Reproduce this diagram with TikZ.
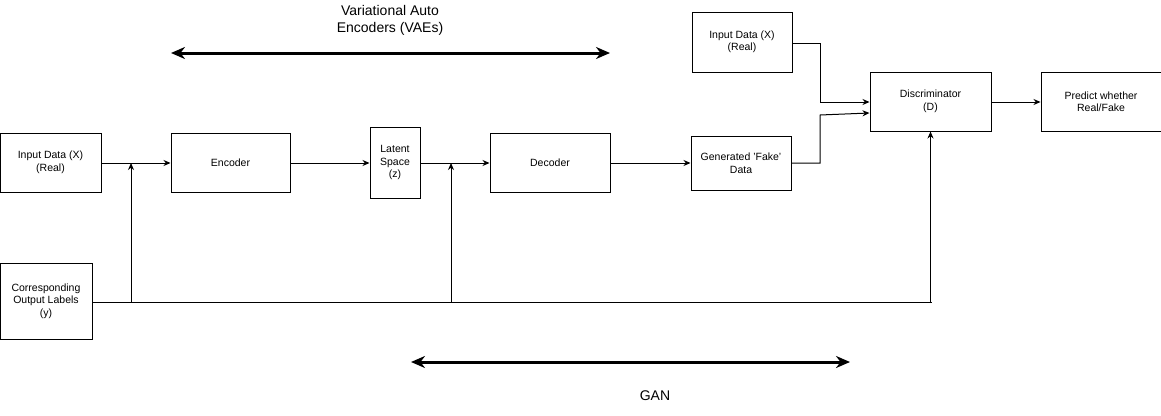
\documentclass[tikz,border=0pt]{standalone}
\usepackage{fontspec}
\setmainfont{Liberation Sans}
\usetikzlibrary{arrows.meta}
\tikzset{
  blk/.style={draw, line width=1pt, align=center, inner sep=0pt, font=\fontsize{10.5}{12.5}\selectfont},
  conn/.style={line width=1pt, -{Stealth[length=7pt,width=6pt]}},
  span/.style={line width=3pt, {Stealth[length=14pt,width=12pt]}-{Stealth[length=14pt,width=12pt]}}
}
\begin{document}
\begin{tikzpicture}[x=1pt, y=-1pt]
    \useasboundingbox (0,0) rectangle (1161,415);

    % boxes
    \node[blk, minimum width=101pt, minimum height=59pt] (inx) at (50.5,162.5) {Input Data (X)\\(Real)};
    \node[blk, minimum width=119pt, minimum height=59pt] (enc) at (230.5,162.5) {Encoder};
    \node[blk, minimum width=50pt, minimum height=71pt] (lat) at (395,162.5) {Latent\\Space\\(z)};
    \node[blk, minimum width=120pt, minimum height=59pt] (dec) at (550,162.5) {Decoder};
    \node[blk, minimum width=100pt, minimum height=54pt] (gen) at (741,163) {Generated 'Fake'\\Data};
    \node[blk, minimum width=100pt, minimum height=60pt] (inr) at (742,42) {Input Data (X)\\(Real)};
    \node[blk, minimum width=121pt, minimum height=59pt] (dis) at (930.5,101.5) {Discriminator\\(D)};
    \node[blk, minimum width=120pt, minimum height=59pt] (pred) at (1101,101.5) {Predict whether\\Real/Fake};
    \node[blk, minimum width=92pt, minimum height=76pt] (lbl) at (46,301) {Corresponding\\Output Labels\\(y)};

    % junctions
    \coordinate (j1) at (131,163);
    \coordinate (j2) at (451,163);
    \coordinate (b1) at (131,302);
    \coordinate (b2) at (451,302);
    \coordinate (b3) at (931,302);

    % connectors
    \draw[conn] (inx.east |- j1) -- (enc.west |- j1);
    \draw[conn] (enc.east |- j1) -- (lat.west |- j1);
    \draw[conn] (lat.east |- j2) -- (dec.west |- j2);
    \draw[conn] (dec.east |- j1) -- (gen.west |- j1);
    \draw[line width=1pt] (lbl.east |- b1) -- (b3);
    \draw[conn] (b1) -- (j1);
    \draw[conn] (b2) -- (j2);
    \draw[conn] (b3) -- (dis.south |- b3) -- (dis.south);
    \draw[conn] (inr.east |- 0,43) -- (820,43) -- (820,102) -- (dis.west |- 0,102);
    \draw[conn] (gen.east |- 0,163) -- (820,163) -- (820,115) -- (dis.west |- 0,113);
    \draw[conn] (dis.east |- 0,102) -- (pred.west |- 0,102);

    % spans
    \node[font=\fontsize{14}{17}\selectfont, align=center] (vae) at (390,20) {Variational Auto\\Encoders (VAEs)};
    \coordinate (v1) at (171,53);
    \coordinate (v2) at (610,53);
    \draw[span] (v1) -- (v2);
    \node[font=\fontsize{14}{17}\selectfont] (gan) at (655,396) {GAN};
    \coordinate (g1) at (411,362);
    \coordinate (g2) at (850,362);
    \draw[span] (g1) -- (g2);
\end{tikzpicture}
\end{document}
